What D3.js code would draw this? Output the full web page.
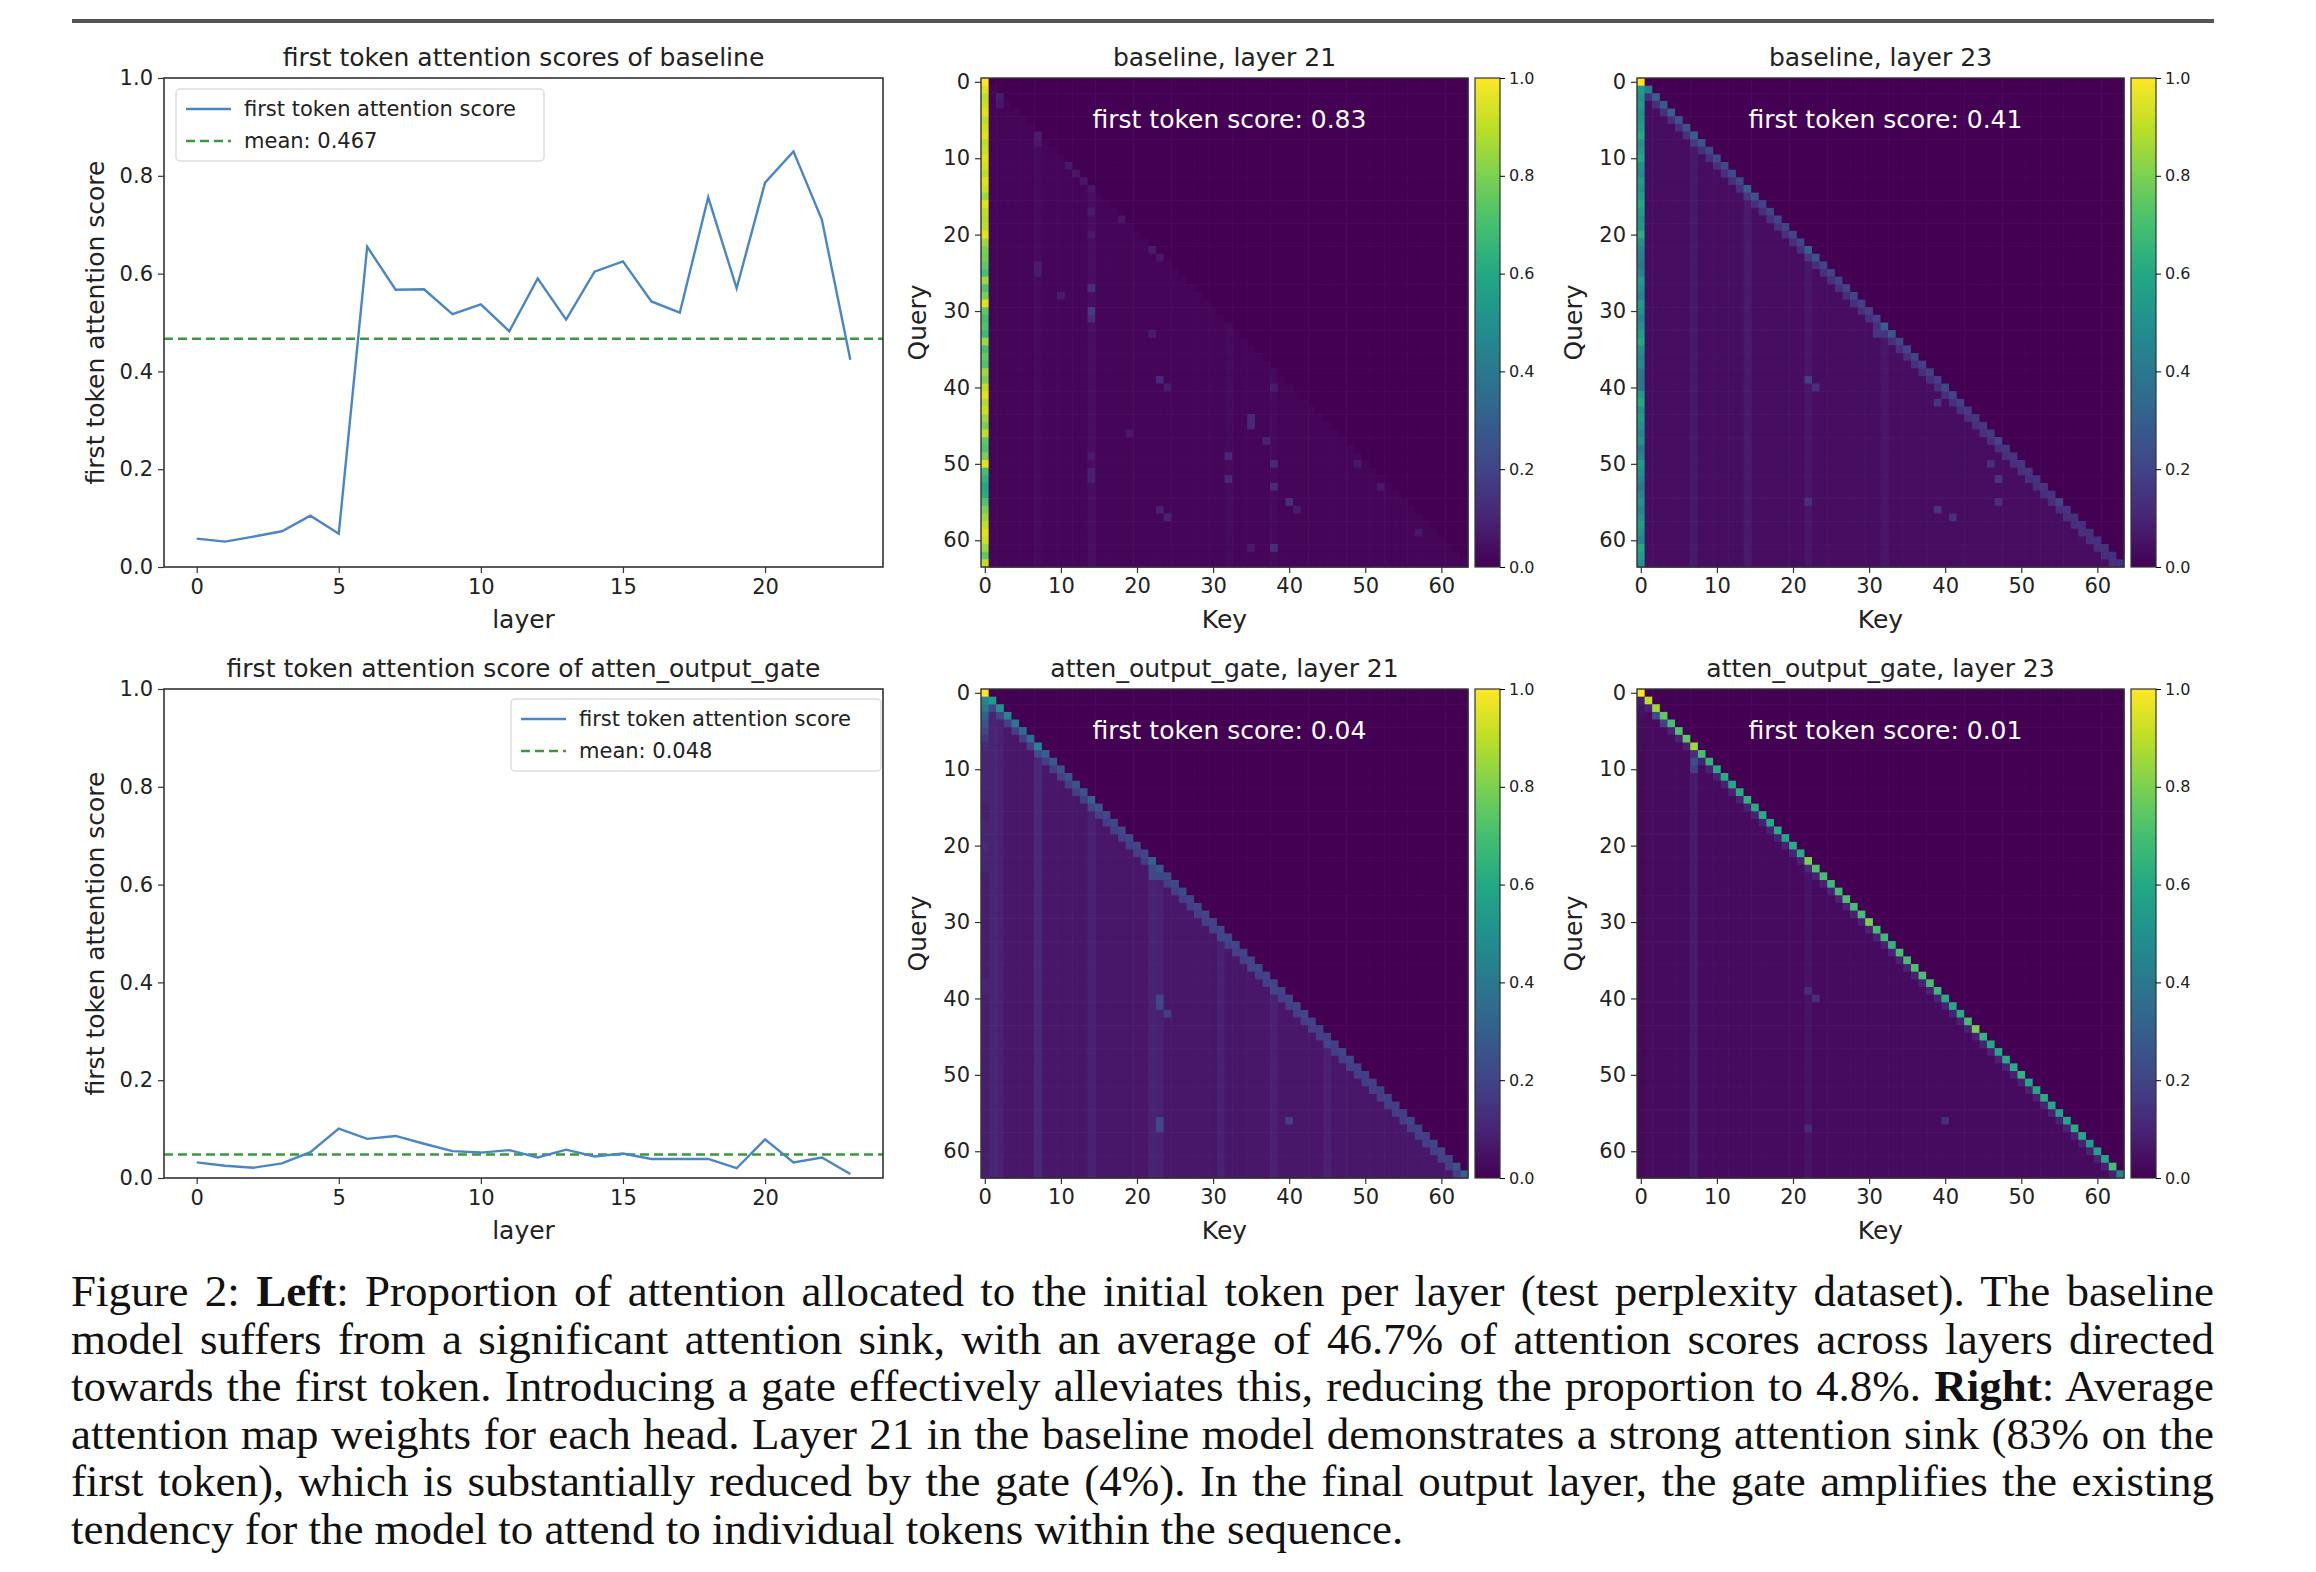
<!DOCTYPE html>
<html><head><meta charset="utf-8">
<script src="https://cdn.jsdelivr.net/npm/d3@7/dist/d3.min.js"></script>
<style>
body{margin:0;background:#fff;width:2316px;height:1572px;overflow:hidden;position:relative}
#cap{position:absolute;left:71px;top:1268px;width:2143px;font-family:"Liberation Serif","DejaVu Serif",serif;font-size:45px;line-height:47.5px;color:#111}
#cap div{text-align:justify;text-align-last:justify;white-space:nowrap;}
#cap div.last{text-align-last:left}
</style></head><body>
<svg id="svg" width="2316" height="1260"></svg>
<div id="cap"></div>
<script>
const layers = d3.range(24);
const baselineScores = [0.058,0.052,0.062,0.073,0.105,0.068,0.655,0.567,0.568,0.517,0.537,0.482,0.590,0.506,0.604,0.625,0.543,0.520,0.756,0.570,0.786,0.850,0.710,0.424];
const gateScores = [0.032,0.025,0.021,0.030,0.053,0.101,0.080,0.086,0.070,0.055,0.052,0.057,0.042,0.058,0.044,0.050,0.039,0.039,0.039,0.020,0.079,0.032,0.042,0.008];
const baselineMean = 0.467, gateMean = 0.048;
const yTicks = [0,0.2,0.4,0.6,0.8,1.0];
const xTicks = [0,5,10,15,20];
const hmTicks = [0,10,20,30,40,50,60];
const cbTicks = [0,0.2,0.4,0.6,0.8,1.0];
const captionLines = [
 "Figure 2: <b>Left</b>: Proportion of attention allocated to the initial token per layer (test perplexity dataset). The baseline",
 "model suffers from a significant attention sink, with an average of 46.7% of attention scores across layers directed",
 "towards the first token. Introducing a gate effectively alleviates this, reducing the proportion to 4.8%. <b>Right</b>: Average",
 "attention map weights for each head. Layer 21 in the baseline model demonstrates a strong attention sink (83% on the",
 "first token), which is substantially reduced by the gate (4%). In the final output layer, the gate amplifies the existing",
 "tendency for the model to attend to individual tokens within the sequence."
];

const b21First = [1,.95,.9,.92,.95,.9,.93,.95,.9,.92,.95,.93,.9,.95,.92,.85,.95,.9,.88,.9,.95,.85,.8,.78,.75,.7,.85,.72,.8,.95,.75,.7,.72,.68,.85,.7,.75,.72,.85,.8,.9,.95,.88,.92,.85,.8,.9,.75,.72,.8,.95,.7,.65,.6,.62,.72,.8,.85,.9,.95,.92,.85,.75,.9];
const b21Lower = 0.012;
const b21Spots = [[2,2,.06],[3,2,.05],[7,7,.06],[8,7,.05],[11,11,.05],[12,12,.05],[13,13,.05],[14,14,.05],[18,18,.05],[22,22,.06],[23,23,.05],[24,7,.06],[25,7,.06],[27,14,.12],[28,10,.06],[30,14,.16],[31,14,.12],[29,30,.05],[33,22,.06],[39,23,.1],[40,24,.06],[40,38,.06],[44,35,.1],[45,35,.1],[46,19,.05],[47,37,.08],[49,32,.1],[50,38,.1],[52,32,.1],[53,38,.1],[55,40,.12],[56,41,.06],[56,23,.08],[57,24,.08],[61,35,.06],[61,38,.12],[50,49,.05],[53,52,.05],[59,57,.05],[20,14,.06],[17,14,.06],[51,14,.08],[52,14,.08],[49,14,.06]];
const b21Stripes = [[14,.025],[7,.012],[32,.012],[38,.012]];

const b23First = [1,.55,.5,.55,.5,.52,.55,.6,.5,.55,.6,.5,.48,.55,.5,.55,.6,.55,.5,.52,.62,.5,.45,.42,.4,.45,.55,.5,.45,.55,.5,.45,.5,.55,.6,.5,.45,.48,.4,.38,.4,.55,.6,.5,.55,.5,.45,.5,.4,.45,.55,.5,.45,.4,.45,.5,.45,.5,.55,.5,.45,.6,.55,.5];
const b23Diag = [1,.4,.3,.28,.3,.25,.25,.3,.25,.22,.22,.22,.22,.22,.3,.25,.2,.2,.2,.2,.2,.2,.3,.25,.2,.2,.2,.2,.2,.18,.18,.18,.3,.25,.2,.2,.2,.18,.18,.18,.22,.2,.18,.16,.16,.16,.16,.2,.16,.15,.15,.15,.15,.15,.15,.2,.15,.14,.14,.14,.14,.14,.14,.14];
const b23Lower = 0.035, b23Band = 0.1;
const b23Spots = [[14,14,.2],[22,22,.2],[32,32,.2],[39,22,.15],[40,23,.1],[42,39,.12],[52,47,.12],[55,47,.1],[55,22,.1],[56,39,.12],[57,41,.1],[33,31,.12],[50,46,.1]];
const b23Stripes = [[7,.03],[14,.035],[22,.025],[32,.02]];

const g21First = [1,.45,.4,.3,.25,.2,.15,.12,.1,.1,.1,.1,.1,.1,.1,.08,.08,.1,.1,.1,.12,.1,.1,.1,.08,.08,.08,.08,.08,.08,.08,.08,.08,.08,.08,.08,.08,.08,.1,.1,.08,.08,.08,.08,.08,.08,.08,.08,.08,.08,.08,.08,.08,.08,.08,.08,.08,.08,.08,.08,.08,.08,.08,.08];
const g21Diag = [1,.55,.5,.45,.4,.35,.35,.45,.3,.28,.25,.25,.25,.25,.3,.25,.22,.22,.22,.22,.2,.2,.3,.25,.22,.22,.22,.2,.2,.2,.2,.2,.2,.2,.2,.2,.22,.2,.2,.2,.2,.2,.2,.18,.18,.18,.18,.2,.2,.18,.18,.18,.18,.18,.18,.18,.2,.18,.18,.2,.2,.18,.25,.3];
const g21Lower = 0.06, g21Band = 0.12;
const g21Spots = [[40,23,.15],[41,23,.15],[42,24,.12],[56,23,.15],[57,23,.15],[56,40,.12],[24,22,.15],[36,35,.15],[30,31,.1]];
const g21Stripes = [[1,.04],[2,.03],[7,.05],[14,.03],[22,.04],[23,.03],[31,.03],[38,.03],[45,.03]];

const g23First = [1,.08,.05,.04,.03,.03,.03,.03,.02,.02,.02,.02,.02,.02,.02,.02,.02,.02,.02,.02,.02,.02,.02,.02,.02,.02,.02,.02,.02,.02,.02,.02,.02,.02,.02,.02,.02,.02,.02,.02,.02,.02,.02,.02,.02,.02,.02,.02,.02,.02,.02,.02,.02,.02,.02,.02,.02,.02,.02,.02,.02,.02,.02,.02];
const g23Diag = [1,.9,.85,.75,.7,.72,.75,.85,.7,.65,.62,.62,.6,.62,.65,.62,.62,.6,.62,.6,.62,.62,.8,.72,.7,.68,.7,.72,.7,.7,.8,.7,.68,.65,.7,.7,.72,.7,.7,.68,.62,.6,.62,.7,.8,.65,.6,.6,.62,.62,.65,.6,.6,.62,.6,.58,.6,.62,.6,.55,.58,.6,.7,.45];
const g23Lower = 0.03, g23Band = 0.06;
const g23Spots = [[3,2,.2],[4,3,.15],[9,7,.2],[10,7,.15],[39,22,.1],[40,23,.1],[56,40,.1],[57,22,.08]];
const g23Stripes = [[7,.04],[22,.02]];

const svg = d3.select("#svg");
const FONT = "DejaVu Sans";

svg.append("line").attr("x1",72).attr("x2",2214).attr("y1",21).attr("y2",21).attr("stroke","#555").attr("stroke-width",4);

function linePanel(top, data, mean, title, legendBox){
  const L=164,R=883,T=top,B=top+489;
  const x=d3.scaleLinear().domain([-1.15,24.15]).range([L,R]);
  const y=d3.scaleLinear().domain([0,1]).range([B,T]);
  const g=svg.append("g");
  g.append("g").attr("transform",`translate(0,${B})`).call(d3.axisBottom(x).tickValues(xTicks).tickSize(6).tickPadding(6).tickFormat(d3.format("d")));
  g.append("g").attr("transform",`translate(${L},0)`).call(d3.axisLeft(y).tickValues(yTicks).tickSize(6).tickPadding(5).tickFormat(d3.format(".1f")));
  g.selectAll(".tick text").attr("font-family",FONT).attr("font-size",21).attr("fill","#222");
  g.selectAll(".domain").remove();
  g.selectAll(".tick line").attr("stroke","#333").attr("stroke-width",1.2);
  g.append("line").attr("x1",x.range()[0]).attr("x2",x.range()[1]).attr("y1",y(mean)).attr("y2",y(mean)).attr("stroke","#3a9a3a").attr("stroke-width",2.5).attr("stroke-dasharray","9,5");
  g.append("path").datum(data).attr("fill","none").attr("stroke","#4a86c3").attr("stroke-width",2.4)
    .attr("d",d3.line().x((d,i)=>x(layers[i])).y(d=>y(d)));
  g.append("rect").attr("x",L).attr("y",T).attr("width",R-L).attr("height",B-T).attr("fill","none").attr("stroke","#333").attr("stroke-width",1.6);
  g.append("text").attr("x",(L+R)/2).attr("y",T-12).attr("text-anchor","middle").attr("font-family",FONT).attr("font-size",25).attr("fill","#222").text(title);
  g.append("text").attr("x",(L+R)/2).attr("y",B+61).attr("text-anchor","middle").attr("font-family",FONT).attr("font-size",25).attr("fill","#222").text("layer");
  g.append("text").attr("transform",`translate(${L-60},${(T+B)/2}) rotate(-90)`).attr("text-anchor","middle").attr("font-family",FONT).attr("font-size",25).attr("fill","#222").text("first token attention score");
  const [lx,ly,lw,lh]=legendBox;
  g.append("rect").attr("x",lx).attr("y",ly).attr("width",lw).attr("height",lh).attr("rx",4).attr("fill","#fff").attr("fill-opacity",0.85).attr("stroke","#ddd").attr("stroke-width",1.5);
  g.append("line").attr("x1",lx+10).attr("x2",lx+55).attr("y1",ly+20).attr("y2",ly+20).attr("stroke","#4a86c3").attr("stroke-width",2.6);
  g.append("line").attr("x1",lx+10).attr("x2",lx+55).attr("y1",ly+52).attr("y2",ly+52).attr("stroke","#3a9a3a").attr("stroke-width",2.6).attr("stroke-dasharray","9,5");
  g.append("text").attr("x",lx+68).attr("y",ly+27).attr("font-family",FONT).attr("font-size",21).attr("fill","#222").text("first token attention score");
  g.append("text").attr("x",lx+68).attr("y",ly+59).attr("font-family",FONT).attr("font-size",21).attr("fill","#222").text("mean: "+mean.toFixed(3));
}
linePanel(78, baselineScores, baselineMean, "first token attention scores of baseline", [176,89,368,72]);
linePanel(689, gateScores, gateMean, "first token attention score of atten_output_gate", [511,699,370,72]);

function heatmap(L, top, first, diag, lower, band, spots, stripes, title, score){
  const R=L+487, T=top, B=top+489, N=64;
  const x=d3.scaleLinear().domain([-0.5,N-0.5]).range([L,R]);
  const y=d3.scaleLinear().domain([-0.5,N-0.5]).range([T,B]);
  const spotMap=new Map(spots.map(s=>[s[0]+","+s[1],s[2]]));
  const stripeMap=new Map(stripes);
  const cells=[];
  for(let q=0;q<N;q++)for(let k=0;k<N;k++){
    let v=0;
    if(k<=q){
      if(k===0) v=first[q];
      else if(diag && k===q) v=diag[q];
      else { v=lower + (k===q-1?band:0) + (stripeMap.get(k)||0); }
      if(spotMap.has(q+","+k) && k!==0) v=Math.max(v, (diag&&k===q?diag[q]:0), spotMap.get(q+","+k)+lower);
    }
    cells.push({q,k,v});
  }
  const g=svg.append("g");
  g.selectAll("rect.c").data(cells).join("rect").attr("class","c")
    .attr("x",d=>x(d.k-0.5)).attr("y",d=>y(d.q-0.5))
    .attr("width",x(1)-x(0)+0.6).attr("height",y(1)-y(0)+0.6)
    .attr("fill",d=>d3.interpolateViridis(Math.min(1,d.v)));
  g.append("rect").attr("x",L).attr("y",T).attr("width",R-L).attr("height",B-T).attr("fill","none").attr("stroke","#333").attr("stroke-width",1.4);
  const ax=g.append("g").attr("transform",`translate(0,${B})`).call(d3.axisBottom(x).tickValues(hmTicks).tickSize(6).tickPadding(5));
  const ay=g.append("g").attr("transform",`translate(${L},0)`).call(d3.axisLeft(y).tickValues(hmTicks).tickSize(6).tickPadding(5));
  [ax,ay].forEach(a=>{a.select(".domain").remove();a.selectAll(".tick text").attr("font-family",FONT).attr("font-size",21).attr("fill","#222");a.selectAll(".tick line").attr("stroke","#333").attr("stroke-width",1.2);});
  g.append("text").attr("x",(L+R)/2).attr("y",T-12).attr("text-anchor","middle").attr("font-family",FONT).attr("font-size",25).attr("fill","#222").text(title);
  g.append("text").attr("x",(L+R)/2).attr("y",B+61).attr("text-anchor","middle").attr("font-family",FONT).attr("font-size",25).attr("fill","#222").text("Key");
  g.append("text").attr("transform",`translate(${L-55},${(T+B)/2}) rotate(-90)`).attr("text-anchor","middle").attr("font-family",FONT).attr("font-size",25).attr("fill","#222").text("Query");
  g.append("text").attr("x",(L+R)/2+5).attr("y",T+50).attr("text-anchor","middle").attr("font-family",FONT).attr("font-size",25).attr("fill","#fff").text("first token score: "+score);
  const cx=R+7, cw=25;
  const cy=d3.scaleLinear().domain([0,1]).range([B,T]);
  const defs=svg.append("defs");
  const id="grad"+L+top;
  const gr=defs.append("linearGradient").attr("id",id).attr("x1",0).attr("y1",1).attr("x2",0).attr("y2",0);
  d3.range(0,1.001,0.1).forEach(t=>gr.append("stop").attr("offset",t).attr("stop-color",d3.interpolateViridis(t)));
  g.append("rect").attr("x",cx).attr("y",T).attr("width",cw).attr("height",B-T).attr("fill",`url(#${id})`).attr("stroke","#333").attr("stroke-width",1.2);
  const ac=g.append("g").attr("transform",`translate(${cx+cw},0)`).call(d3.axisRight(cy).tickValues(cbTicks).tickSize(5).tickPadding(4).tickFormat(d3.format(".1f")));
  ac.select(".domain").remove();
  ac.selectAll(".tick text").attr("font-family",FONT).attr("font-size",16).attr("fill","#222");
}
heatmap(981,78,b21First,null,b21Lower,0,b21Spots,b21Stripes,"baseline, layer 21","0.83");
heatmap(1637,78,b23First,b23Diag,b23Lower,b23Band,b23Spots,b23Stripes,"baseline, layer 23","0.41");
heatmap(981,689,g21First,g21Diag,g21Lower,g21Band,g21Spots,g21Stripes,"atten_output_gate, layer 21","0.04");
heatmap(1637,689,g23First,g23Diag,g23Lower,g23Band,g23Spots,g23Stripes,"atten_output_gate, layer 23","0.01");

d3.select("#cap").selectAll("div").data(captionLines).join("div")
  .attr("class",(d,i)=>i===captionLines.length-1?"last":null).html(d=>d);
</script></body></html>
